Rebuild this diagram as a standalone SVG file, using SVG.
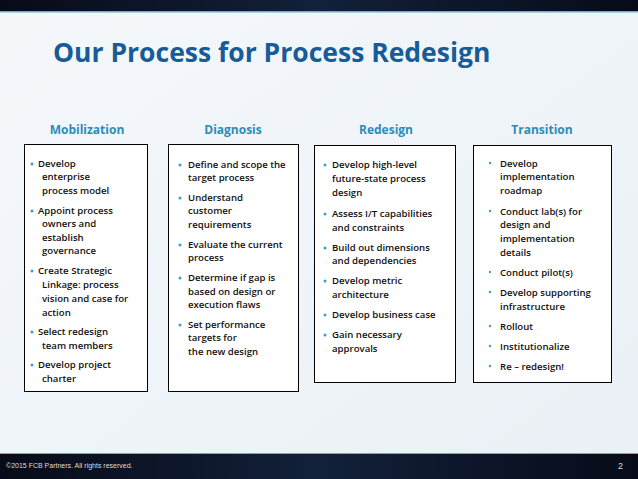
<svg xmlns="http://www.w3.org/2000/svg" width="638" height="479" viewBox="0 0 638 479">
<defs>
<linearGradient id="bg" x1="0" y1="0" x2="1" y2="1"><stop offset="0" stop-color="#f4f8fb"/><stop offset="1" stop-color="#eaf0f5"/></linearGradient>
<linearGradient id="bar" x1="0" y1="0" x2="1" y2="0"><stop offset="0" stop-color="#070b18"/><stop offset="0.5" stop-color="#12203a"/><stop offset="1" stop-color="#070b18"/></linearGradient>
</defs>
<style>
.box{fill:#fff;stroke:#000;stroke-width:1}
.hd{font-family:"Open Sans","Liberation Sans",sans-serif;font-weight:bold;font-size:12px;fill:#2b8db8;text-anchor:middle}
.t{font-family:"Open Sans","Liberation Sans",sans-serif;font-weight:600;font-size:9.6px;fill:#111}
.b{fill:#3aa0c8}
</style>
<rect width="638" height="479" fill="url(#bg)"/>
<rect width="638" height="11" fill="url(#bar)"/>
<rect y="11" width="638" height="1.5" fill="#5fb3c8"/>
<rect y="453" width="638" height="26" fill="url(#bar)"/>
<rect y="453" width="638" height="1" fill="#5fb3c8"/>
<text x="6" y="468" font-family="Liberation Sans,sans-serif" font-size="7px" fill="#ddd">©2015 FCB Partners. All rights reserved.</text>
<text x="623" y="469" font-family="Liberation Sans,sans-serif" font-size="9px" fill="#ddd" text-anchor="end">2</text>
<text x="53" y="62" font-family="Open Sans,Liberation Sans,sans-serif" font-weight="bold" font-size="26.5px" fill="#175b99">Our Process for Process Redesign</text>

<g id="mobilization">
<text class="hd" x="87" y="134">Mobilization</text>
<rect class="box" x="24.5" y="144.5" width="123" height="247"/>
<g class="t">
<text x="38" y="167">Develop</text><text x="42" y="180">enterprise</text><text x="42" y="194">process model</text>
<text x="38" y="214">Appoint process</text><text x="42" y="227">owners and</text><text x="42" y="241">establish</text><text x="42" y="254">governance</text>
<text x="38" y="274">Create Strategic</text><text x="42" y="288">Linkage: process</text><text x="42" y="302">vision and case for</text><text x="42" y="316">action</text>
<text x="38" y="335">Select redesign</text><text x="42" y="349">team members</text>
<text x="38" y="368">Develop project</text><text x="42" y="382">charter</text>
</g>
<g class="b"><circle cx="32" cy="164" r="1.5"/><circle cx="32" cy="211" r="1.5"/><circle cx="32" cy="271" r="1.5"/><circle cx="32" cy="332" r="1.5"/><circle cx="32" cy="365" r="1.5"/></g>
</g>

<g id="diagnosis">
<text class="hd" x="233" y="134">Diagnosis</text>
<rect class="box" x="168.5" y="144.5" width="130" height="247"/>
<g class="t">
<text x="188" y="168">Define and scope the</text><text x="188" y="181">target process</text>
<text x="188" y="201">Understand</text><text x="188" y="214">customer</text><text x="188" y="228">requirements</text>
<text x="188" y="248">Evaluate the current</text><text x="188" y="261">process</text>
<text x="188" y="281">Determine if gap is</text><text x="188" y="295">based on design or</text><text x="188" y="308">execution flaws</text>
<text x="188" y="328">Set performance</text><text x="188" y="341">targets for</text><text x="188" y="355">the new design</text>
</g>
<g class="b"><circle cx="180" cy="165" r="1.5"/><circle cx="180" cy="198" r="1.5"/><circle cx="180" cy="245" r="1.5"/><circle cx="180" cy="278" r="1.5"/><circle cx="180" cy="325" r="1.5"/></g>
</g>

<g id="redesign">
<text class="hd" x="386" y="134">Redesign</text>
<rect class="box" x="314.5" y="145.5" width="141" height="237"/>
<g class="t">
<text x="332" y="168">Develop high-level</text><text x="332" y="182">future-state process</text><text x="332" y="196">design</text>
<text x="332" y="217">Assess I/T capabilities</text><text x="332" y="231">and constraints</text>
<text x="332" y="251">Build out dimensions</text><text x="332" y="264">and dependencies</text>
<text x="332" y="284">Develop metric</text><text x="332" y="298">architecture</text>
<text x="332" y="318">Develop business case</text>
<text x="332" y="338">Gain necessary</text><text x="332" y="352">approvals</text>
</g>
<g class="b"><circle cx="325" cy="165" r="1.5"/><circle cx="325" cy="214" r="1.5"/><circle cx="325" cy="248" r="1.5"/><circle cx="325" cy="281" r="1.5"/><circle cx="325" cy="315" r="1.5"/><circle cx="325" cy="335" r="1.5"/></g>
</g>

<g id="transition">
<text class="hd" x="542" y="134">Transition</text>
<rect class="box" x="473.5" y="145.5" width="138" height="237"/>
<g class="t">
<text x="500" y="167">Develop</text><text x="500" y="180">implementation</text><text x="500" y="194">roadmap</text>
<text x="500" y="215">Conduct lab(s) for</text><text x="500" y="228">design and</text><text x="500" y="242">implementation</text><text x="500" y="256">details</text>
<text x="500" y="276">Conduct pilot(s)</text>
<text x="500" y="296">Develop  supporting</text><text x="500" y="310">infrastructure</text>
<text x="500" y="330">Rollout</text>
<text x="500" y="350">Institutionalize</text>
<text x="500" y="370">Re – redesign!</text>
</g>
<g class="b"><circle cx="490" cy="163" r="1.2"/><circle cx="490" cy="211" r="1.2"/><circle cx="490" cy="272" r="1.2"/><circle cx="490" cy="292" r="1.2"/><circle cx="490" cy="326" r="1.2"/><circle cx="490" cy="346" r="1.2"/><circle cx="490" cy="366" r="1.2"/></g>
</g>
<g id="connectors"/>
</svg>
